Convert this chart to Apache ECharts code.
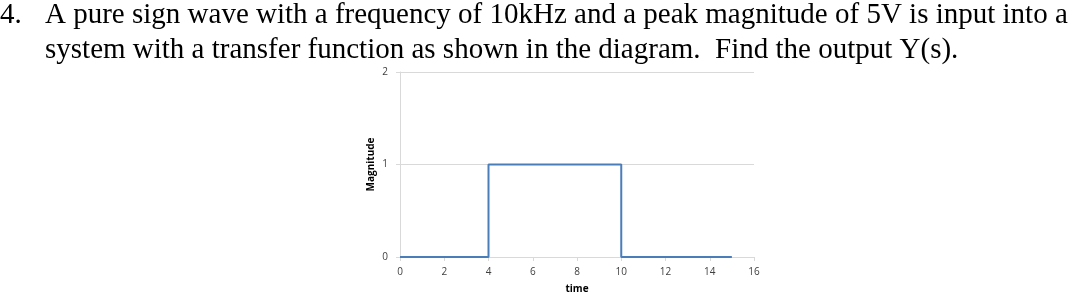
<!DOCTYPE html>
<html><head><meta charset="utf-8">
<script src="https://cdn.jsdelivr.net/npm/echarts@6/dist/echarts.min.js"></script>
<style>html,body{margin:0;padding:0;background:#fff}#c{width:1075px;height:306px}</style>
</head><body><div id="c"></div>
<script>
const timeValues = [0, 4, 4, 10, 10, 15];
const magnitudeValues = [0, 0, 1, 1, 0, 0];
const xTicks = [0, 2, 4, 6, 8, 10, 12, 14, 16];
const yTicks = [0, 1, 2];
const questionLines = [
  "4.",
  "A pure sign wave with a frequency of 10kHz and a peak magnitude of 5V is input into a",
  "system with a transfer function as shown in the diagram.  Find the output Y(s)."
];
const chart = echarts.init(document.getElementById('c'));
const serif = '"Liberation Serif", "Times New Roman", serif';
const sans = '"Open Sans", "Liberation Sans", sans-serif';
chart.setOption({
  animation: false,
  graphic: [
    {type:'text', left: 0, top: 1, style:{text: questionLines[0], font: '29px ' + serif, fill:'#000'}},
    {type:'text', left: 45, top: 1, style:{text: questionLines[1], font: '29px ' + serif, fill:'#000'}},
    {type:'text', left: 45, top: 36, style:{text: questionLines[2], font: '29px ' + serif, fill:'#000'}}
  ],
  grid: {left: 400, right: 321, top: 72, bottom: 49},
  xAxis: {
    type: 'value', min: xTicks[0], max: xTicks[xTicks.length-1], interval: 2,
    name: 'time', nameLocation: 'middle', nameGap: 27,
    nameTextStyle: {fontFamily: sans, fontSize: 10, fontWeight: 'bold', color: '#000'},
    axisLine: {show: true, lineStyle: {color: '#d9d9d9', width: 1}},
    axisTick: {show: true, length: 4, lineStyle: {color: '#d9d9d9'}},
    axisLabel: {fontFamily: sans, fontSize: 10, color: '#404040', margin: 10},
    splitLine: {show: false}
  },
  yAxis: {
    type: 'value', min: yTicks[0], max: yTicks[yTicks.length-1], interval: 1,
    name: 'Magnitude', nameLocation: 'middle', nameGap: 24, nameRotate: 90,
    nameTextStyle: {fontFamily: sans, fontSize: 10, fontWeight: 'bold', color: '#000'},
    axisLine: {show: true, lineStyle: {color: '#d9d9d9', width: 1}},
    axisTick: {show: true, length: 4, lineStyle: {color: '#d9d9d9'}},
    axisLabel: {fontFamily: sans, fontSize: 10, color: '#404040', margin: 12},
    splitLine: {show: true, lineStyle: {color: '#d9d9d9', width: 1}}
  },
  series: [{
    type: 'line',
    data: timeValues.map((t, i) => [t, magnitudeValues[i]]),
    showSymbol: false,
    lineStyle: {color: '#4a7ebb', width: 2},
    itemStyle: {color: '#4a7ebb'}
  }]
});
</script></body></html>
